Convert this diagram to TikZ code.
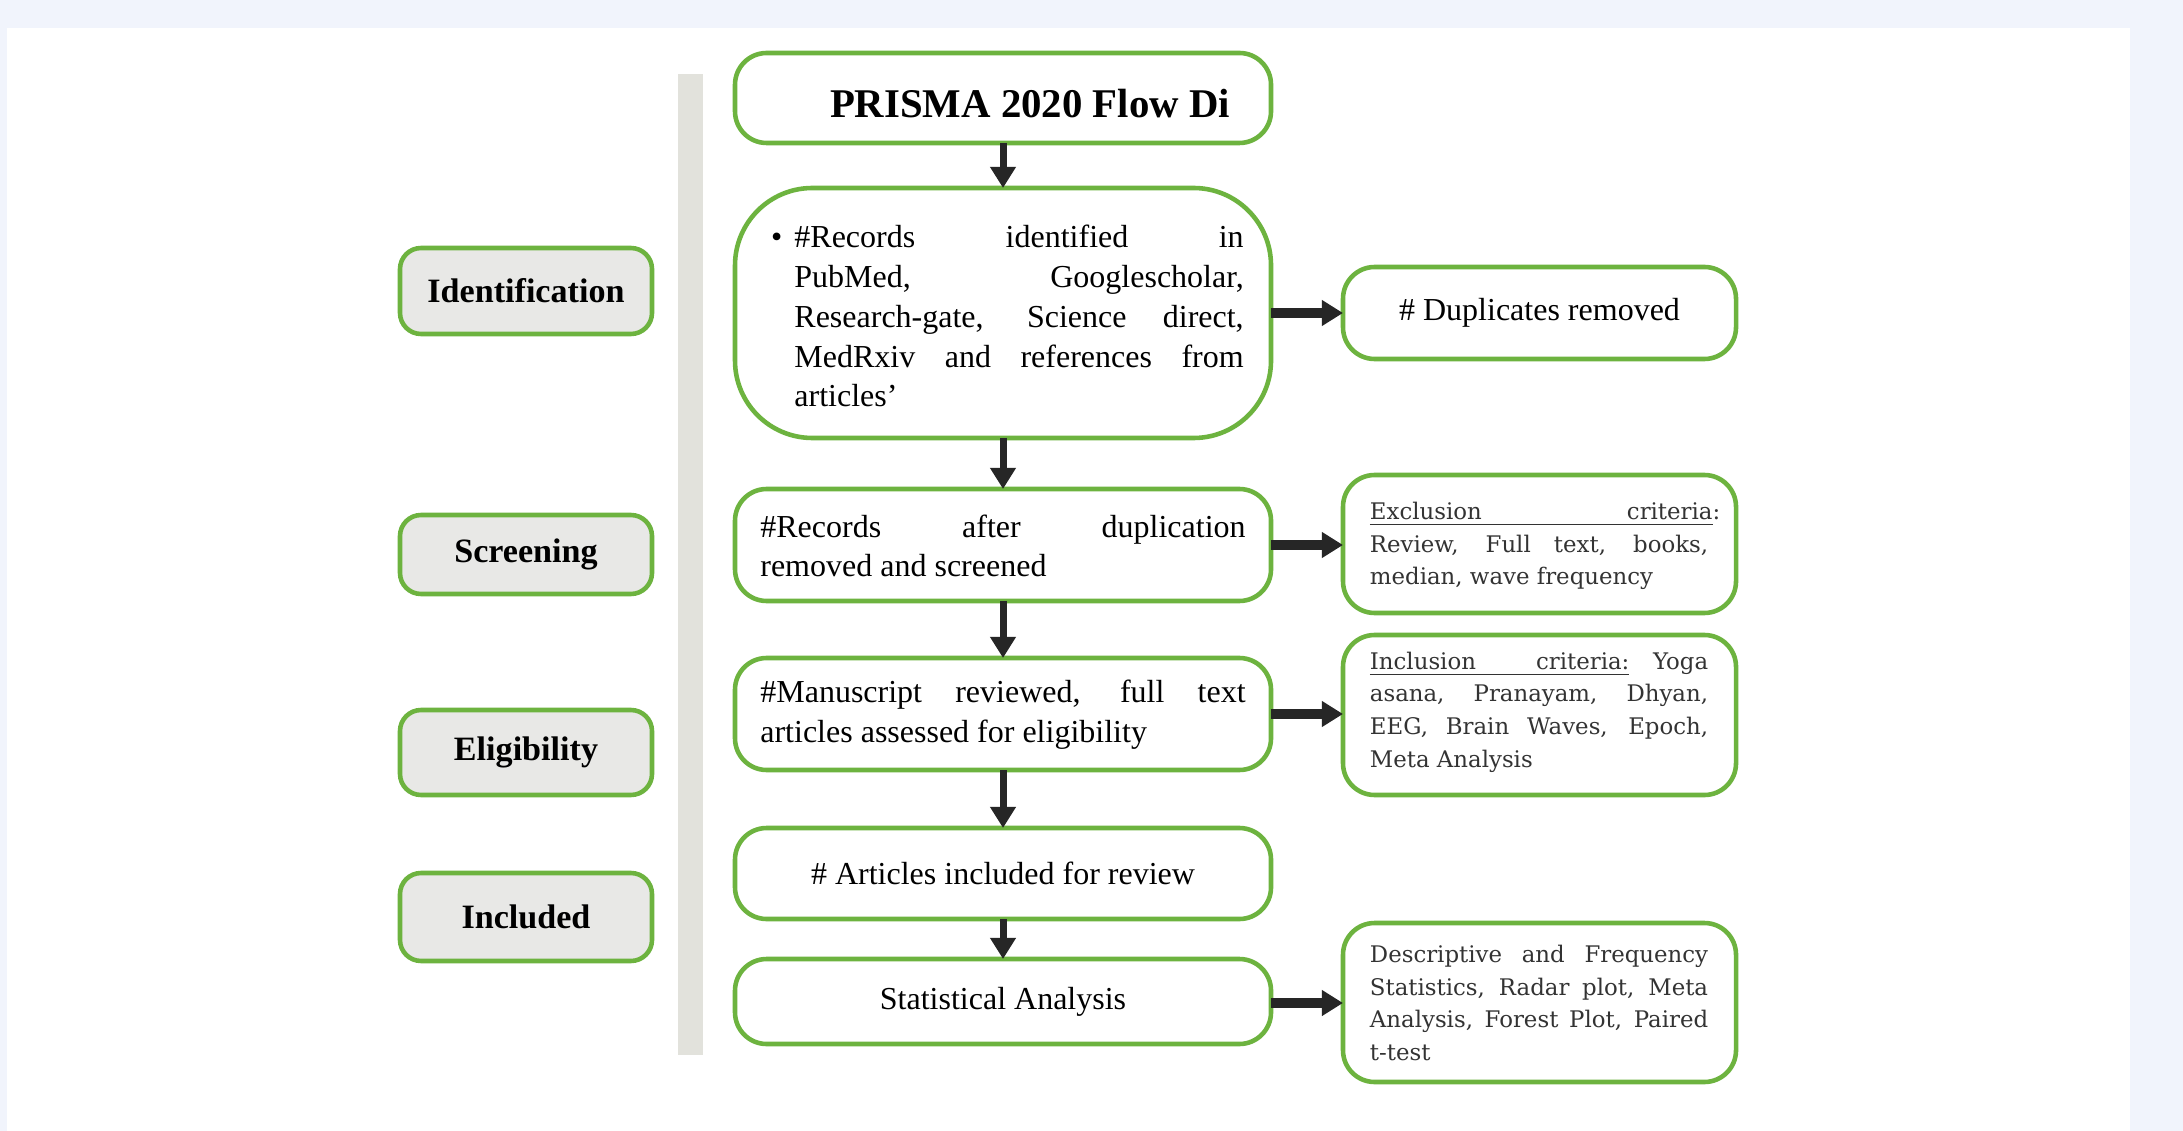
\documentclass[tikz,border=0pt]{standalone}
\usepackage{fontspec}
\setmainfont{Liberation Serif}
\newfontfamily\wideserif{DejaVu Serif}
\usetikzlibrary{arrows.meta}
\definecolor{gbord}{HTML}{6DB33F}
\definecolor{bgblue}{HTML}{F1F4FC}
\definecolor{lblfill}{HTML}{E8E8E6}
\definecolor{stripe}{HTML}{E2E2DC}
\tikzset{
  x=0.01cm,y=-0.01cm,
  gbox/.style={draw=gbord,line width=1.3pt,rounded corners=9pt,fill=white},
  lbl/.style={draw=gbord,line width=1.3pt,rounded corners=6pt,fill=lblfill,font=\bfseries\fontsize{9.7}{12}\selectfont},
  flow/.style={-{Triangle[length=6pt,width=7pt]},line width=2pt,draw=black!85},
  body/.style={font=\fontsize{9.1}{11.3}\selectfont},
  small/.style={font=\wideserif\fontsize{6.5}{9.3}\selectfont,text=black!80},
}
\begin{document}
\begin{tikzpicture}
\fill[bgblue] (0,0) rectangle (2183,1131);
\fill[white] (7,28) rectangle (2130,1131);
\fill[stripe] (678,74) rectangle (703,1055);
% left labels
\draw[lbl] (400,248) rectangle (652,334) node[midway] (lid) {Identification};
\draw[lbl] (400,515) rectangle (652,594) node[midway] (lsc) {Screening};
\draw[lbl] (400,710) rectangle (652,795) node[midway] (lel) {Eligibility};
\draw[lbl] (400,873) rectangle (652,961) node[midway] (lin) {Included};
% centre boxes
\draw[gbox] (735,53) rectangle (1271,143) node[midway] (title) {};
\node[font=\bfseries\fontsize{11.6}{14}\selectfont] (tt) at (1030,104) {PRISMA 2020 Flow Di};
\draw[gbox,rounded corners=22pt] (735,188) rectangle (1271,438) node[midway] (rec) {};
\node[body,text width=4.49cm,align=justify,anchor=north west] (rect) at (782,213)
  {\hyphenpenalty=10000 \llap{\textbullet\hspace{0.12cm}}\#Records identified in\linebreak PubMed, Googlescholar,\linebreak Research-gate, Science direct,\linebreak MedRxiv and references from\linebreak articles'};
\draw[gbox] (735,489) rectangle (1271,601) node[midway] (dup) {};
\node[body,text width=4.85cm,align=justify] at (1003,546) {\#Records after duplication\linebreak removed and screened};
\draw[gbox] (735,658) rectangle (1271,770) node[midway] (man) {};
\node[body,text width=4.85cm,align=justify] at (1003,715) {\#Manuscript reviewed, full text\linebreak articles assessed for eligibility};
\draw[gbox] (735,828) rectangle (1271,919) node[midway,body] (art) {\# Articles included for review};
\draw[gbox] (735,959) rectangle (1271,1044) node[midway,body] (stat) {Statistical Analysis};
% right boxes
\draw[gbox] (1343,267) rectangle (1736,359) node[midway,body] (dupr) {\# Duplicates removed};
\draw[gbox] (1343,475) rectangle (1736,613) node[midway] (exc) {};
\node[small,text width=3.38cm,align=justify] at (1539,546) {\hyphenpenalty=10000 \underline{Exclusion\hspace{1.45cm}criteria}:\linebreak Review, Full text, books,\linebreak median, wave frequency};
\draw[gbox] (1343,635) rectangle (1736,795) node[midway] (inc) {};
\node[small,text width=3.38cm,align=justify] at (1539,712) {\hyphenpenalty=10000 \underline{Inclusion\hspace{0.6cm}criteria:} Yoga\linebreak asana, Pranayam, Dhyan,\linebreak EEG, Brain Waves, Epoch,\linebreak Meta Analysis};
\draw[gbox] (1343,923) rectangle (1736,1082) node[midway] (desc) {};
\node[small,text width=3.38cm,align=justify] at (1539,1003) {\hyphenpenalty=10000 Descriptive and Frequency\linebreak Statistics, Radar plot, Meta\linebreak Analysis, Forest Plot, Paired\linebreak t-test};
% arrows
\coordinate (a1) at (1003,143); \coordinate (a2) at (1003,188);
\draw[flow] (a1) -- (a2);
\coordinate (b1) at (1003,438); \coordinate (b2) at (1003,489);
\draw[flow] (b1) -- (b2);
\coordinate (c1) at (1003,601); \coordinate (c2) at (1003,658);
\draw[flow] (c1) -- (c2);
\coordinate (d1) at (1003,770); \coordinate (d2) at (1003,828);
\draw[flow] (d1) -- (d2);
\coordinate (e1) at (1003,919); \coordinate (e2) at (1003,959);
\draw[flow] (e1) -- (e2);
\coordinate (r1) at (1271,313); \coordinate (r2) at (1343,313);
\draw[flow,line width=3pt] (r1) -- (r2);
\coordinate (s1) at (1271,545); \coordinate (s2) at (1343,545);
\draw[flow,line width=3pt] (s1) -- (s2);
\coordinate (t1) at (1271,714); \coordinate (t2) at (1343,714);
\draw[flow,line width=3pt] (t1) -- (t2);
\coordinate (u1) at (1271,1003); \coordinate (u2) at (1343,1003);
\draw[flow,line width=3pt] (u1) -- (u2);
\end{tikzpicture}
\end{document}
